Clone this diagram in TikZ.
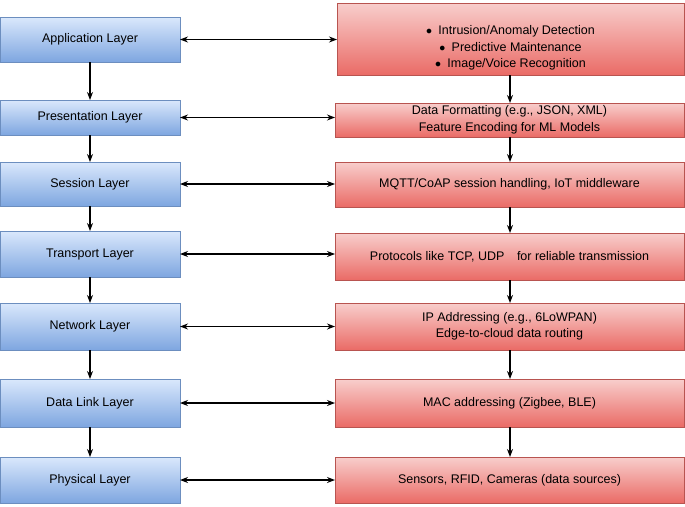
\documentclass[tikz,border=0pt]{standalone}
\usepackage{fontspec}
\setmainfont{Liberation Sans}
\usetikzlibrary{arrows.meta}
\definecolor{lt}{HTML}{DAE8FC}\definecolor{lbt}{HTML}{7EA6E0}\definecolor{ld}{HTML}{6C8EBF}
\definecolor{rt}{HTML}{F8CECC}\definecolor{rbt}{HTML}{EA6B66}\definecolor{rd}{HTML}{B85450}
\begin{document}
\begin{tikzpicture}[x=1pt,y=-1pt,
  lbox/.style={draw=ld, top color=lt, bottom color=lbt},
  rbox/.style={draw=rd, top color=rt, bottom color=rbt},
  va/.style={-{Stealth[length=8pt,width=6pt]}, line width=1.2pt},
  ha/.style={{Stealth[length=8pt,width=6pt]}-{Stealth[length=8pt,width=6pt]}, line width=1.2pt}]
\useasboundingbox (0,0) rectangle (685,506);
\newcommand{\lb}[4]{\path[lbox] (0,#2) rectangle (180,#3); \node[font=\fontsize{12.5}{15}\selectfont] (#1) at (90,{(#2+#3)/2}) {#4};
  \coordinate (#1t) at (90,#2); \coordinate (#1b) at (90,#3); \coordinate (#1r) at (180,{(#2+#3)/2});}
\newcommand{\rb}[6]{\path[rbox] (#2,#3) rectangle (684,#4); \node[font=\fontsize{12.5}{16.5}\selectfont,align=center] (#1) at ({(#2+684)/2},{(#3+#4)/2+#6}) {#5};
  \coordinate (#1t) at (510,#3); \coordinate (#1b) at (510,#4); \coordinate (#1l) at (#2,{(#3+#4)/2});}
\lb{a}{17}{62}{Application Layer}
\lb{p}{100}{135}{Presentation Layer}
\lb{s}{162}{206}{Session Layer}
\lb{t}{231}{277}{Transport Layer}
\lb{n}{303}{350}{Network Layer}
\lb{d}{379}{427}{Data Link Layer}
\lb{h}{457}{503}{Physical Layer}
\rb{A}{337}{3}{75}{$\bullet$\enspace Intrusion/Anomaly Detection\\$\bullet$\enspace Predictive Maintenance\\$\bullet$\enspace Image/Voice Recognition}{9}
\rb{P}{335}{103}{137}{Data Formatting (e.g., JSON, XML)\\Feature Encoding for ML Models}{0}
\rb{S}{335}{162}{207}{MQTT/CoAP session handling, IoT middleware}{0}
\rb{T}{335}{233}{280}{Protocols like TCP, UDP\quad for reliable transmission}{0}
\rb{N}{335}{303}{350}{IP Addressing (e.g., 6LoWPAN)\\Edge-to-cloud data routing}{0}
\rb{D}{335}{379}{427}{MAC addressing (Zigbee, BLE)}{0}
\rb{H}{335}{457}{503}{Sensors, RFID, Cameras (data sources)}{0}
\draw[va] (ab) -- (pt); \draw[va] (pb) -- (st); \draw[va] (sb) -- (tt);
\draw[va] (tb) -- (nt); \draw[va] (nb) -- (dt); \draw[va] (db) -- (ht);
\draw[va] (Ab) -- (Pt); \draw[va] (Pb) -- (St); \draw[va] (Sb) -- (Tt);
\draw[va] (Tb) -- (Nt); \draw[va] (Nb) -- (Dt); \draw[va] (Db) -- (Ht);
\draw[ha] (ar) -- (Al |- ar); \draw[ha] (pr) -- (Pl |- pr); \draw[ha] (sr) -- (Sl |- sr);
\draw[ha] (tr) -- (Tl |- tr); \draw[ha] (nr) -- (Nl |- nr); \draw[ha] (dr) -- (Dl |- dr); \draw[ha] (hr) -- (Hl |- hr);
\end{tikzpicture}
\end{document}
